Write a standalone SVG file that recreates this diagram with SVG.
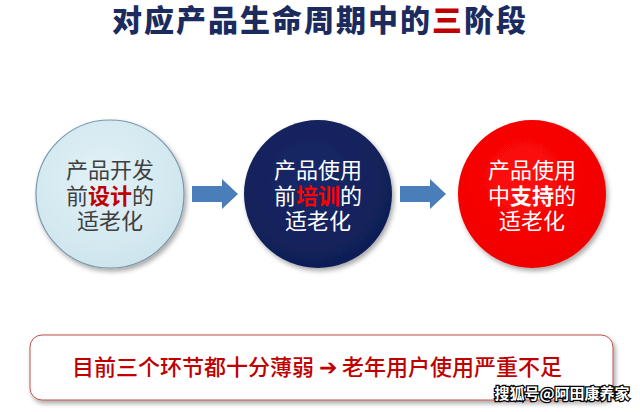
<svg xmlns="http://www.w3.org/2000/svg" width="640" height="412" viewBox="0 0 640 412">
<style>
.cjk{font-family:"Noto Sans CJK SC","Noto Sans",sans-serif}
.ct{font-size:22px;text-anchor:middle}
.b{font-weight:bold}
</style>
<defs>
<filter id="sh" x="-20%" y="-20%" width="140%" height="140%">
<feGaussianBlur in="SourceAlpha" stdDeviation="2.5"/>
<feOffset dx="2" dy="3" result="o"/>
<feComponentTransfer><feFuncA type="linear" slope="0.35"/></feComponentTransfer>
<feMerge><feMergeNode/><feMergeNode in="SourceGraphic"/></feMerge>
</filter>
<radialGradient id="g1" cx="0.45" cy="0.4" r="0.7">
<stop offset="0" stop-color="#e3f2f7"/>
<stop offset="1" stop-color="#cbe3ec"/>
</radialGradient>
<radialGradient id="g2" cx="0.45" cy="0.4" r="0.7">
<stop offset="0" stop-color="#18296a"/>
<stop offset="1" stop-color="#0f1d52"/>
</radialGradient>
<radialGradient id="g3" cx="0.45" cy="0.4" r="0.7">
<stop offset="0" stop-color="#ff0a0a"/>
<stop offset="1" stop-color="#ee0000"/>
</radialGradient>
<polygon id="arr" points="0,-8 30,-8 30,-15 46,0 30,15 30,8 0,8" fill="#4a7ebb"/>
</defs>
<rect width="640" height="412" fill="#ffffff"/>
<text class="cjk" x="320" y="31" font-size="30" font-weight="900" fill="#1c2b5e" text-anchor="middle" letter-spacing="2">对应产品生命周期中的<tspan fill="#c00000">三</tspan>阶段</text>

<g id="node1">
<circle cx="110" cy="194" r="74" fill="url(#g1)" stroke="#7a98ad" stroke-width="1.2" filter="url(#sh)"/>
<text class="cjk ct" fill="#3f3f3f" x="110" y="178">产品开发</text>
<text class="cjk ct" fill="#3f3f3f" x="110" y="204">前<tspan class="b" fill="#c00000">设计</tspan>的</text>
<text class="cjk ct" fill="#3f3f3f" x="110" y="229">适老化</text>
</g>
<g id="node2">
<circle cx="318" cy="194" r="74" fill="url(#g2)" filter="url(#sh)"/>
<text class="cjk ct" fill="#ffffff" x="318" y="178">产品使用</text>
<text class="cjk ct" fill="#ffffff" x="318" y="204">前<tspan class="b" fill="#ff0000">培训</tspan>的</text>
<text class="cjk ct" fill="#ffffff" x="318" y="229">适老化</text>
</g>
<g id="node3">
<circle cx="532" cy="194" r="74" fill="url(#g3)" filter="url(#sh)"/>
<text class="cjk ct" fill="#ffffff" x="532" y="178">产品使用</text>
<text class="cjk ct" fill="#ffffff" x="532" y="204">中<tspan class="b">支持</tspan>的</text>
<text class="cjk ct" fill="#ffffff" x="532" y="229">适老化</text>
</g>

<g id="connectors">
<use href="#arr" x="192" y="194"/>
<use href="#arr" x="400" y="194"/>
</g>

<g id="summary">
<rect x="30" y="335" width="583" height="65" rx="12" fill="#ffffff" stroke="#c0504d" stroke-width="1" filter="url(#sh)"/>
<text class="cjk" x="317" y="375" font-size="22" font-weight="500" fill="#c00000" text-anchor="middle">目前三个环节都十分薄弱 ➔ 老年用户使用严重不足</text>
</g>
<text class="cjk" x="562" y="399" font-size="15" font-weight="bold" fill="#ffffff" stroke="#000000" stroke-width="2.5" paint-order="stroke" text-anchor="middle">搜狐号@阿田康养家</text>
</svg>
